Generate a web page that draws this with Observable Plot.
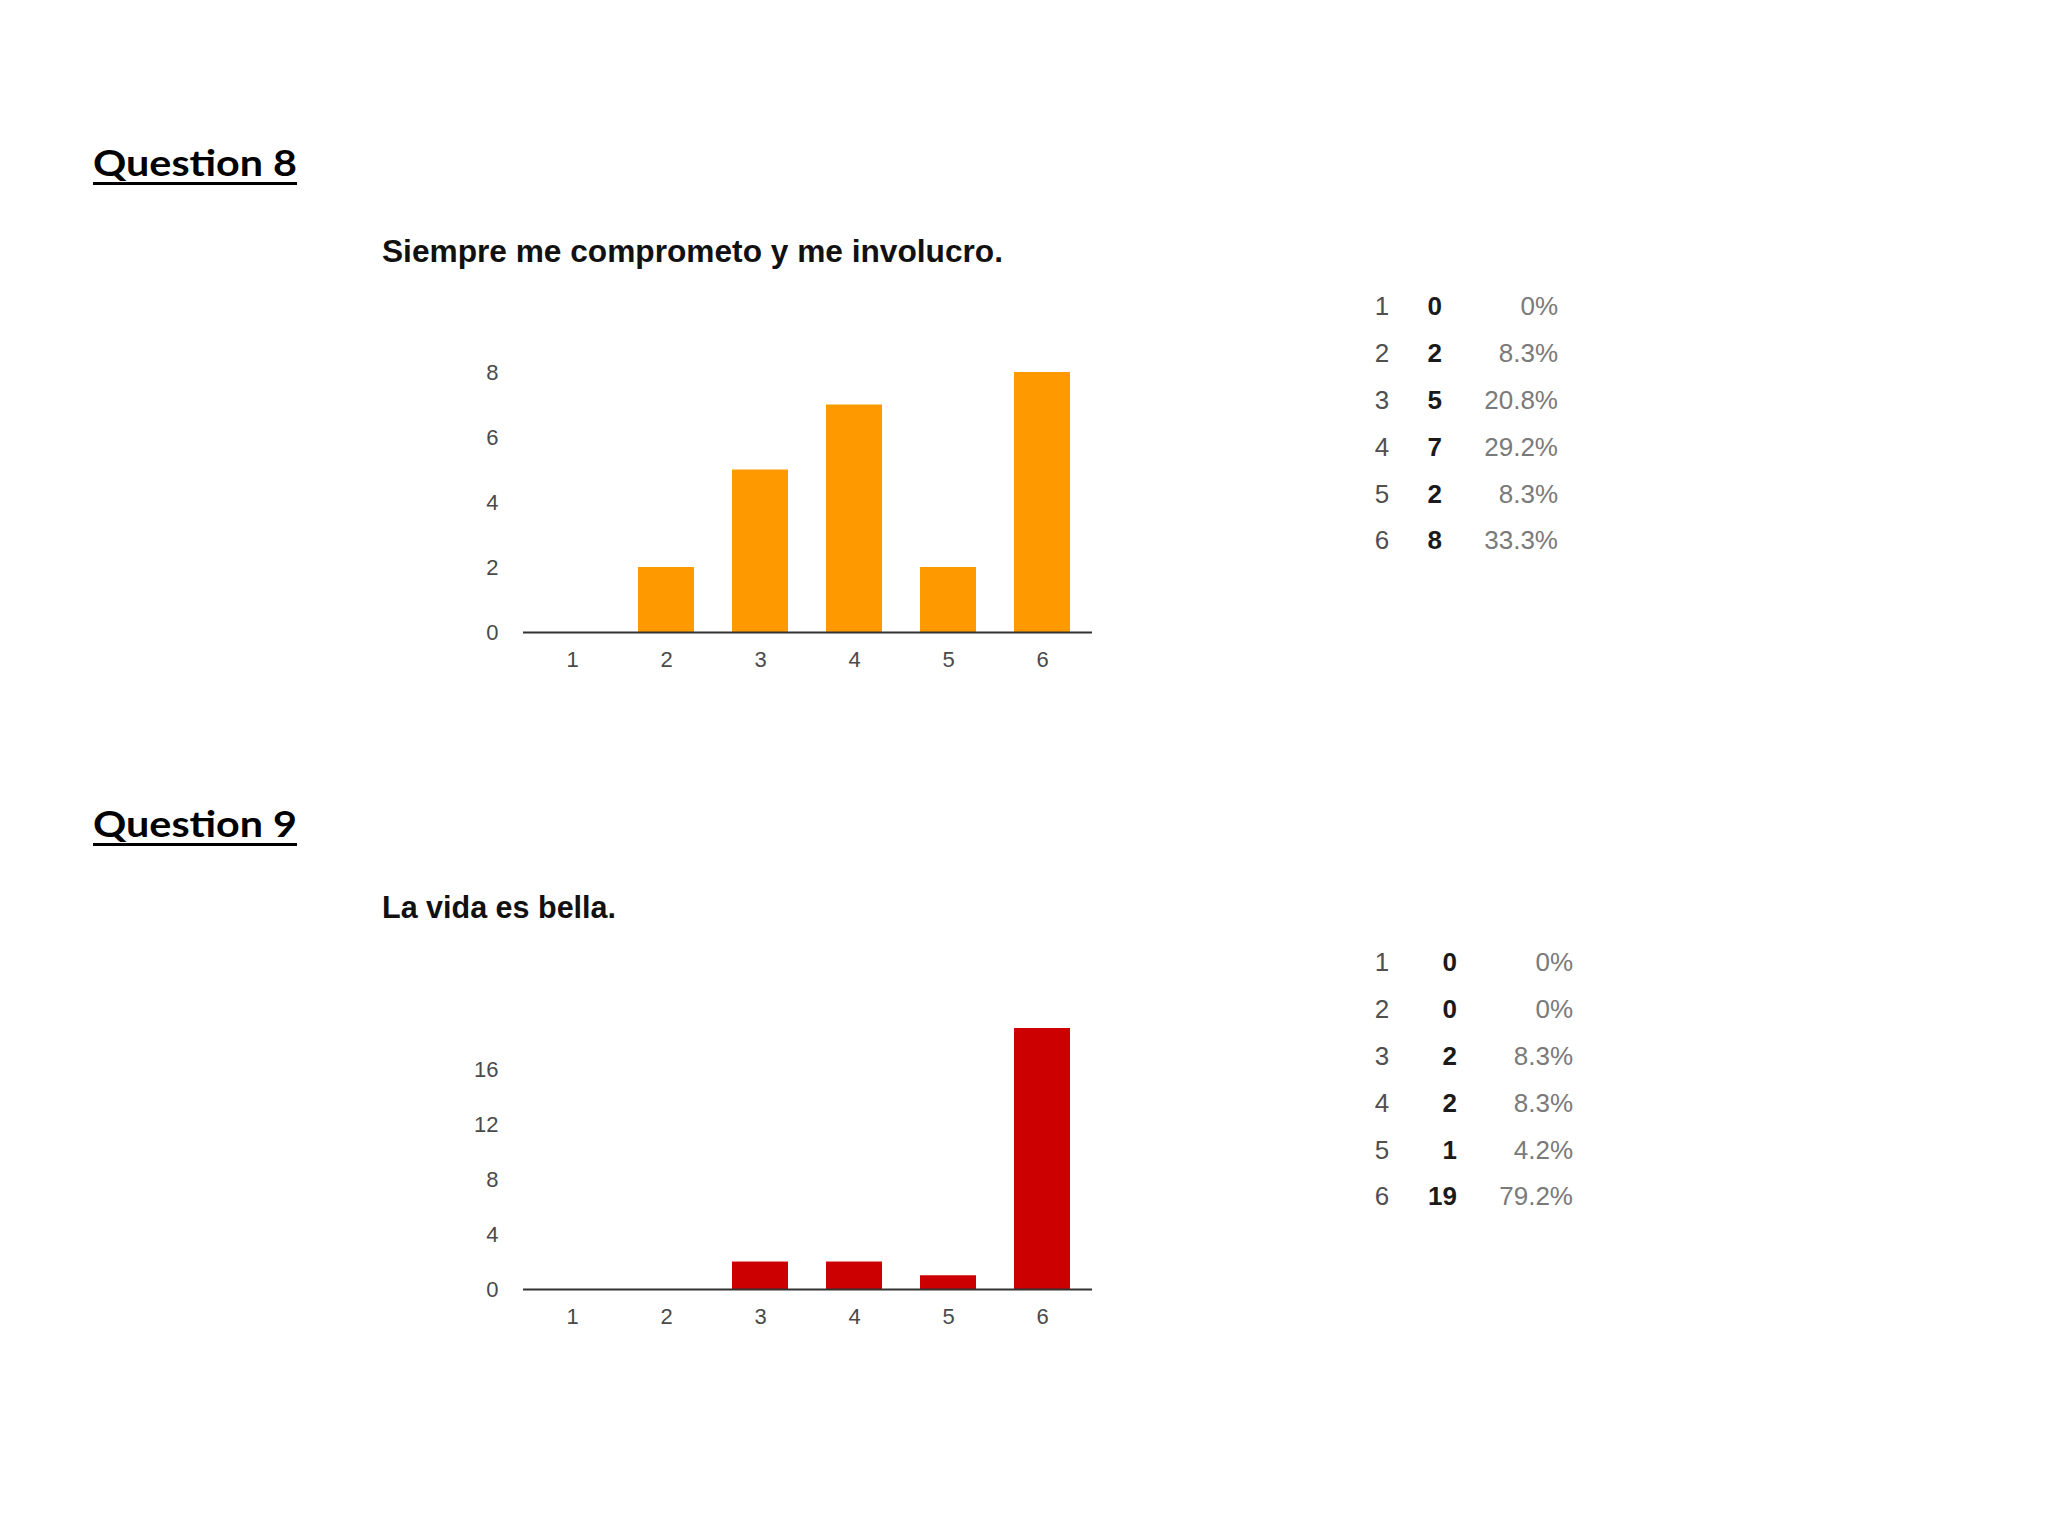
<!DOCTYPE html>
<html><head><meta charset="utf-8">
<script src="https://cdn.jsdelivr.net/npm/d3@7"></script>
<script src="https://cdn.jsdelivr.net/npm/@observablehq/plot@0.6"></script>
<style>
html,body{margin:0;padding:0;background:#fff}
#page{position:relative;width:2048px;height:1536px;overflow:hidden;background:#fff}
.chart{position:absolute}
#overlay{position:absolute;left:0;top:0}
</style></head>
<body><div id="page"><svg id="overlay" width="2048" height="1536"></svg></div>
<script>
// ---- data ----
const categories = ["1","2","3","4","5","6"];
const q8Counts = [0, 2, 5, 7, 2, 8];
const q8Pct = ["0%","8.3%","20.8%","29.2%","8.3%","33.3%"];
const q8Ticks = [0, 2, 4, 6, 8];
const q9Counts = [0, 0, 2, 2, 1, 19];
const q9Pct = ["0%","0%","8.3%","8.3%","4.2%","79.2%"];
const q9Ticks = [0, 4, 8, 12, 16];
const headings = ["Question 8", "Question 9"];
const questions = ["Siempre me comprometo y me involucro.", "La vida es bella."];

const page = document.getElementById("page");
const NS = "http://www.w3.org/2000/svg";
const ov = document.getElementById("overlay");
function txt(s, attrs) {
  const t = document.createElementNS(NS, "text");
  for (const k in attrs) t.setAttribute(k, attrs[k]);
  t.textContent = s;
  ov.appendChild(t);
  return t;
}
function rect(attrs){
  const r = document.createElementNS(NS, "rect");
  for (const k in attrs) r.setAttribute(k, attrs[k]);
  ov.appendChild(r);
}

function chart(counts, color, ticks, ymax, top, mt, mb) {
  const data = categories.map((c, i) => ({cat: c, count: counts[i]}));
  const p = Plot.plot({
    width: 680, height: 350,
    marginLeft: 83, marginRight: 28, marginTop: mt, marginBottom: mb,
    style: {fontFamily: "'Liberation Sans', Arial, sans-serif", fontSize: "22px", color: "#4a4a4a", background: "transparent"},
    x: {type: "band", domain: categories, paddingInner: 0.4, paddingOuter: 0.2, label: null},
    y: {domain: [0, ymax], label: null},
    marks: [
      Plot.barY(data, {x: "cat", y: "count", fill: color}),
      Plot.ruleY([0], {stroke: "#333", strokeWidth: 2}),
      Plot.axisY({ticks: ticks, tickSize: 0, tickPadding: 25, label: null}),
      Plot.axisX({tickSize: 0, tickPadding: 19, label: null})
    ]
  });
  const d = document.createElement("div");
  d.className = "chart";
  d.style.left = "440px"; d.style.top = top + "px";
  d.appendChild(p);
  page.appendChild(d);
}

chart(q8Counts, "#ff9900", q8Ticks, 8, 339, 33, 57);
chart(q9Counts, "#cc0000", q9Ticks, 19, 1000, 28, 61);

// headings
const hBase = [176, 837];
headings.forEach((h, i) => {
  txt(h, {x: 93, y: hBase[i], "font-family": "Lato, 'Open Sans', sans-serif", "font-weight": 700, "font-size": 36,
          textLength: 204, lengthAdjust: "spacingAndGlyphs", fill: "#000"});
  rect({x: 93, y: hBase[i] + 6, width: 204, height: 3, fill: "#000"});
});
// subtitles
const qBase = [262, 918];
const qLen = [621, 234];
questions.forEach((q, i) => {
  txt(q, {x: 382, y: qBase[i], "font-family": "'Liberation Sans', Arial, sans-serif", "font-weight": 700, "font-size": 31,
          textLength: qLen[i], lengthAdjust: "spacingAndGlyphs", fill: "#111"});
});
// tables
function table(counts, pcts, y0, countX, pctX) {
  categories.forEach((c, i) => {
    const y = y0 + i * 46.8 + 9.3;
    const f = {"font-family": "'Liberation Sans', Arial, sans-serif", "font-size": 26};
    txt(c, {...f, x: 1382, y, "text-anchor": "middle", fill: "#505050"});
    txt(String(counts[i]), {...f, x: countX, y, "text-anchor": "end", "font-weight": 700, fill: "#1a1a1a"});
    txt(pcts[i], {...f, x: pctX, y, "text-anchor": "end", fill: "#7a7a7a"});
  });
}
table(q8Counts, q8Pct, 306, 1442, 1558);
table(q9Counts, q9Pct, 962, 1457, 1573);
</script></body></html>
